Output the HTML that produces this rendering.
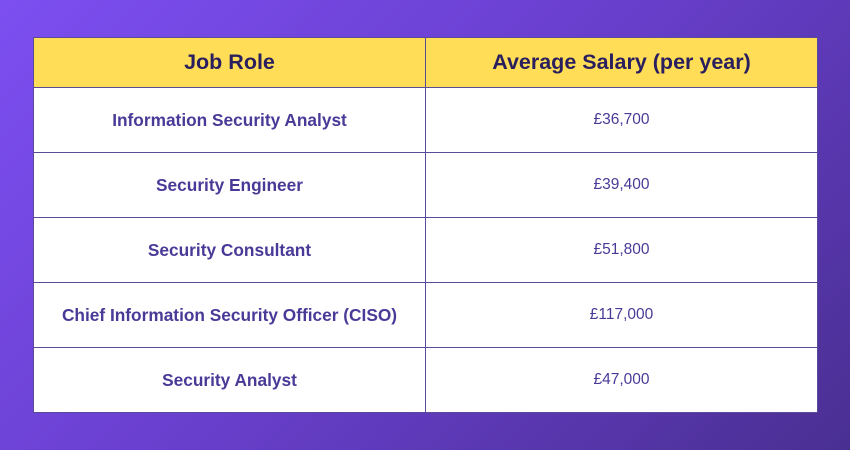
<!DOCTYPE html>
<html><head><style>
html,body{margin:0;padding:0;}
body{width:850px;height:450px;overflow:hidden;background:linear-gradient(135deg,#7c4ff0 0%,#6a40d0 45%,#4a2f92 100%);position:relative;font-family:"Liberation Sans",sans-serif;}
table{position:absolute;left:33px;top:37px;width:785px;border-collapse:collapse;background:#fff;}
td,th{border:1px solid #5a4a9a;text-align:center;padding:0;}
th{background:#ffdd57;height:49px;color:#2a1f5e;font-size:21.5px;font-weight:bold;}
td{height:64px;color:#4a3a98;font-size:15.5px;}
td:first-child{font-weight:bold;width:391px;font-size:17.3px;}
</style></head><body>
<table>
<tr><th>Job Role</th><th>Average Salary (per year)</th></tr>
<tr><td>Information Security Analyst</td><td>£36,700</td></tr>
<tr><td>Security Engineer</td><td>£39,400</td></tr>
<tr><td>Security Consultant</td><td>£51,800</td></tr>
<tr><td>Chief Information Security Officer (CISO)</td><td>£117,000</td></tr>
<tr><td>Security Analyst</td><td>£47,000</td></tr>
</table>
</body></html>
